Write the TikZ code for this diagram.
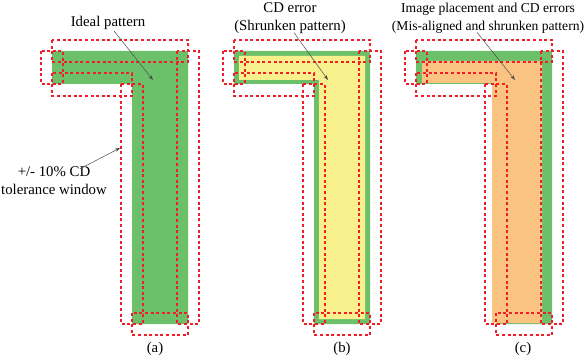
\documentclass[tikz,border=0pt]{standalone}
\usepackage{fontspec}
\setmainfont{Liberation Serif}
\usetikzlibrary{arrows.meta}

\definecolor{patgreen}{RGB}{108,192,106}
\definecolor{shrinkyellow}{RGB}{248,240,140}
\definecolor{shiftorange}{RGB}{250,195,130}
\definecolor{winred}{RGB}{240,30,40}

\begin{document}
\begin{tikzpicture}[
    x=1pt, y=-1pt,
    font=\fontsize{14.8}{18}\selectfont,
    label/.style={align=center, inner sep=1pt},
    window/.style={winred, line width=1.3pt, dash pattern=on 3pt off 2.6pt},
    pointer/.style={-{Stealth[length=5pt, width=3.5pt]}, black!70, line width=0.5pt},
  ]
  \useasboundingbox (0,0) rectangle (586,358);

  % ---------- ideal pattern (green), same place in all three panels ----------
  \foreach \dx in {0,182,364} {
    \fill[patgreen, shift={(\dx,0)}]
      (52,51) -- (188,51) -- (188,324) -- (132,324) -- (132,84) -- (52,84) -- cycle;
  }

  % ---------- (b): shrunken pattern ----------
  \fill[shrinkyellow]
    (239,56) -- (365,56) -- (365,319) -- (319,319) -- (319,80) -- (239,80) -- cycle;

  % ---------- (c): mis-aligned and shrunken pattern ----------
  \fill[shiftorange]
    (422,61) -- (542,61) -- (542,323) -- (492,323) -- (492,83) -- (422,83) -- cycle;

  % ---------- +/- 10% CD tolerance windows, one box per pattern edge ----------
  \foreach \dx in {0,182,364} {
    \begin{scope}[shift={(\dx,0)}]
      \draw[window] (52,40) rectangle (188,62);    % top edge
      \draw[window] (177,51) rectangle (199,324);  % right edge
      \draw[window] (132,313) rectangle (188,335); % bottom edge
      \draw[window] (121,84) rectangle (143,324);  % inner left edge
      \draw[window] (52,73) rectangle (132,96);    % under the arm
      \draw[window] (41,51) rectangle (63,84);     % left end
    \end{scope}
  }

  % ---------- labels ----------
  \node[label] (ideal) at (108,23) {Ideal pattern};
  \node[label] (cderr) at (290,18) {CD error\\(Shrunken pattern)};
  \node[label, font=\fontsize{13.6}{18}\selectfont] (placeerr) at (488,18)
    {Image placement and CD errors\\(Mis-aligned and shrunken pattern)};
  \node[label] (tolwin) at (54,181) {+/- 10\% CD\\tolerance window};

  \node[label] (capa) at (155,349) {(a)};
  \node[label] (capb) at (342,349) {(b)};
  \node[label] (capc) at (523,349) {(c)};

  % ---------- pointers ----------
  \coordinate (idealtip) at (153,80);
  \coordinate (cdtip) at (328,80);
  \coordinate (placetip) at (515,80);
  \coordinate (toltip) at (120,148);

  \draw[pointer] ([xshift=6pt]ideal.south) -- (idealtip);
  \draw[pointer] ([xshift=-11pt, yshift=2pt]placeerr.south) -- (placetip);
  \draw[pointer] ([xshift=4pt, yshift=2pt]cderr.south) -- (cdtip);
  \draw[pointer] ([xshift=26pt, yshift=-3pt]tolwin.north) -- (toltip);

\end{tikzpicture}
\end{document}
